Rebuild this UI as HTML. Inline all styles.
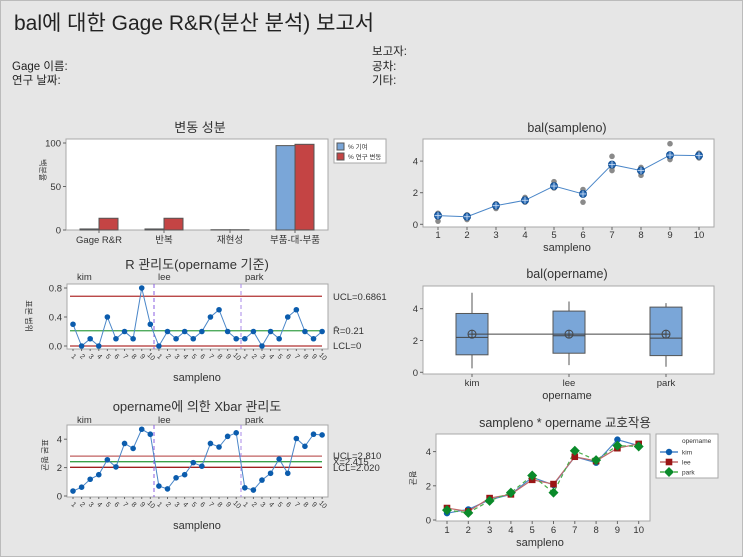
<!DOCTYPE html>
<html><head><meta charset="utf-8"><style>
html,body{margin:0;padding:0;background:#e6e6e6;}
svg{display:block;font-family:"Liberation Sans","Noto Sans CJK KR",sans-serif;}
</style></head><body>
<svg id="s" width="743" height="557" viewBox="0 0 743 557" xmlns="http://www.w3.org/2000/svg">
<rect x="0.5" y="0.5" width="742" height="556" fill="#e6e6e6" stroke="#bbb"/>
<text x="14" y="30" font-size="21" fill="#222">bal에 대한 Gage R&amp;R(분산 분석) 보고서</text>
<text x="12" y="70" font-size="11.5" fill="#222">Gage 이름:</text>
<text x="12" y="84" font-size="11.5" fill="#222">연구 날짜:</text>
<text x="372" y="55" font-size="11.5" fill="#222">보고자:</text>
<text x="372" y="70" font-size="11.5" fill="#222">공차:</text>
<text x="372" y="84" font-size="11.5" fill="#222">기타:</text>
</svg>
<script>
const S=document.getElementById('s');let h='';
const T=(x,y,t,sz,a,extra)=>{h+=`<text x="${x}" y="${y}" font-size="${sz||10}" text-anchor="${a||'start'}" fill="#333" ${extra||''}>${t}</text>`;};
const L=(x1,y1,x2,y2,c,w,d)=>{h+=`<line x1="${x1}" y1="${y1}" x2="${x2}" y2="${y2}" stroke="${c}" stroke-width="${w||1}" ${d?`stroke-dasharray="${d}"`:''}/>`;};
const R=(x,y,w,hh,f,s)=>{h+=`<rect x="${x}" y="${y}" width="${w}" height="${hh}" fill="${f}" stroke="${s||'none'}"/>`;};
const box=(x1,y1,x2,y2)=>R(x1,y1,x2-x1,y2-y1,'#fff','#a8a8a8');
const ytick=(x,y,t)=>{L(x-3,y,x,y,'#666');T(x-5,y+3.5,t,9.5,'end');};
// chart1
T(200,132,'변동 성분',13,'middle');box(66,139,328,230);
[[100,143],[50,186.5],[0,230]].forEach(a=>ytick(66,a[1],a[0]));
T(40,170,'백분율',8,'middle','transform="rotate(90 40 170)"');
const cats=[['Gage R&amp;R',99,1.2,13.5],['반복',164,1.2,13.5],['재현성',230,0.3,0.3],['부품-대-부품',295,97,98.5]];
cats.forEach(c=>{const sc=0.87;R(c[1]-19,230-c[2]*sc,19,c[2]*sc,'#7aa6d8','#555');R(c[1],230-c[3]*sc,19,c[3]*sc,'#c44444','#555');T(c[1],243,c[0],9.5,'middle');L(c[1],230,c[1],233,'#666');});
R(334,139,52,24,'#fff','#a8a8a8');R(337,143,7,7,'#7aa6d8','#555');R(337,153,7,7,'#c44444','#555');T(348,149,'% 기여',6.5);T(348,159,'% 연구 변동',6.5);
// control chart helper
const ctrl=(y0,yb,yt,ty,title,vals,sc,zero,ticks,lines)=>{
T(197,y0,title,13,'middle');box(67,yt,328,yb);
ticks.forEach(t=>ytick(67,zero-t[0]*sc,t[1]));
T(77,ty,'kim',9.5);T(158,ty,'lee',9.5);T(245,ty,'park',9.5);
lines.forEach(l=>L(70,zero-l[0]*sc,322,zero-l[0]*sc,l[1],1.3));
L(154,yt,154,yb,'#8a5ce0',1,'4,3');L(241,yt,241,yb,'#a98ae8',1,'4,3');
let p=vals.map((v,i)=>[73+i*8.59,zero-v*sc]);
h+=`<polyline fill="none" stroke="#4a86c8" stroke-width="1" points="${p.map(q=>q.join(',')).join(' ')}"/>`;
p.forEach((q,i)=>{h+=`<circle cx="${q[0]}" cy="${q[1]}" r="2.8" fill="#0b5cad"/>`;L(q[0],yb,q[0],yb+2,'#666');const n=i%10+1;T(q[0]+1,yb+9,n,7,'middle',`transform="rotate(45 ${q[0]} ${yb+7})"`);});
T(197,yb+32,'sampleno',11,'middle');
};
ctrl(269,349,284,280,'R 관리도(opername 기준)',[0.3,0,0.1,0,0.4,0.1,0.2,0.1,0.8,0.3,0,0.2,0.1,0.2,0.1,0.2,0.4,0.5,0.2,0.1,0.1,0.2,0,0.2,0.1,0.4,0.5,0.2,0.1,0.2],72.5,346,[[0.8,'0.8'],[0.4,'0.4'],[0,'0.0']],[[0.6861,'#b03030'],[0.21,'#3aa04a'],[0,'#b03030']]);
T(333,300,'UCL=0.6861',9.5);T(333,334,'R̄=0.21',9.5);T(333,349,'LCL=0',9.5);
T(26,316,'표본 범위',8,'middle','transform="rotate(90 26 316)"');
ctrl(411,497,425,423,'opername에 의한 Xbar 관리도',[0.35,0.62,1.18,1.5,2.55,2.05,3.7,3.35,4.7,4.35,0.7,0.5,1.28,1.5,2.35,2.1,3.7,3.45,4.2,4.45,0.58,0.42,1.12,1.6,2.6,1.6,4.05,3.5,4.35,4.3],14.2,496,[[4,'4'],[2,'2'],[0,'0']],[[2.81,'#c06060'],[2.415,'#3aa04a'],[2.02,'#a02020']]);
T(333,459,'UCL=2.810',9.5);T(333,465,'X̄=2.415',9.5);T(333,471,'LCL=2.020',9.5);
T(42,455,'표본 평균',8,'middle','transform="rotate(90 42 455)"');
// bal(sampleno)
T(567,132,'bal(sampleno)',12.5,'middle');box(423,139,714,227);
const z4=224.3,s4=15.8;[[4,'4'],[2,'2'],[0,'0']].forEach(t=>ytick(423,z4-t[0]*s4,t[1]));
const m=[0.55,0.48,1.18,1.52,2.42,1.92,3.78,3.4,4.38,4.35];
const gr=[[0.2,0.7,0.6],[0.3,0.6,0.5],[1.0,1.3,1.2],[1.4,1.7,1.6],[2.3,2.7,2.5],[1.4,2.2,2.0],[3.4,4.3,3.6],[3.1,3.6,3.5],[4.1,5.1,4.2],[4.2,4.5,4.3]];
m.forEach((v,i)=>{const x=438+i*29;gr[i].forEach(g=>h+=`<circle cx="${x}" cy="${z4-g*s4}" r="2.8" fill="#8a8a8a"/>`);T(x,238,i+1,9.5,'middle');L(x,227,x,230,'#666');});
h+=`<polyline fill="none" stroke="#4a86c8" points="${m.map((v,i)=>(438+i*29)+','+(z4-v*s4)).join(' ')}"/>`;
m.forEach((v,i)=>{const x=438+i*29,y=z4-v*s4;h+=`<circle cx="${x}" cy="${y}" r="3.5" fill="#2f6fb8" stroke="#0b4a90"/>`;L(x-3.5,y,x+3.5,y,'#cfe0f5',0.8);L(x,y-3.5,x,y+3.5,'#cfe0f5',0.8);});
T(567,251,'sampleno',11,'middle');
// bal(opername)
T(567,278,'bal(opername)',12.5,'middle');box(423,286,714,374);
const z5=372.3,s5=15.9;[[4,'4'],[2,'2'],[0,'0']].forEach(t=>ytick(423,z5-t[0]*s5,t[1]));
[[472,'kim',0.25,1.1,2.2,3.7,5.0],[569,'lee',0.45,1.2,2.3,3.85,4.45],[666,'park',0.35,1.05,2.15,4.1,4.35]].forEach(b=>{const [x,n,lo,q1,md,q3,hi]=b,Y=v=>z5-v*s5;
L(x,Y(hi),x,Y(q3),'#555');L(x,Y(q1),x,Y(lo),'#555');R(x-16,Y(q3),32,Y(q1)-Y(q3),'#7aa6d8','#555');L(x-16,Y(md),x+16,Y(md),'#444');T(x,386,n,9.5,'middle');L(x,374,x,377,'#666');});
L(472,z5-2.4*s5,666,z5-2.4*s5,'#444');
[472,569,666].forEach(x=>{const y=z5-2.4*s5;h+=`<circle cx="${x}" cy="${y}" r="4" fill="none" stroke="#444"/>`;L(x-4,y,x+4,y,'#444');L(x,y-4,x,y+4,'#444');});
T(567,399,'opername',11,'middle');
// interaction
T(565,427,'sampleno * opername 교호작용',12.5,'middle');box(436,434,650,521);
const z6=520,s6=17.1;[[4,'4'],[2,'2'],[0,'0']].forEach(t=>ytick(436,z6-t[0]*s6,t[1]));
for(let i=0;i<10;i++){const x=447+i*21.3;T(x,533,i+1,9.5,'middle');L(x,521,x,524,'#666');}
T(540,546,'sampleno',11,'middle');
T(410,478,'평균',8,'middle','transform="rotate(90 410 478)"');
const ser=[['#4a86c8','#0b5cad','c',[0.4,0.62,1.18,1.5,2.5,2.05,3.7,3.35,4.7,4.35],''],['#c06a6a','#9a1515','s',[0.7,0.5,1.28,1.5,2.35,2.1,3.7,3.45,4.2,4.45],''],['#4cae4c','#0a8a2a','d',[0.58,0.42,1.12,1.6,2.6,1.6,4.05,3.5,4.35,4.3],'4,3']];
const mk=(t,x,y,c)=>{if(t=='c')h+=`<circle cx="${x}" cy="${y}" r="3.2" fill="${c}"/>`;else if(t=='s')R(x-3.3,y-3.3,6.6,6.6,c);else h+=`<polygon points="${x},${y-5} ${x+5},${y} ${x},${y+5} ${x-5},${y}" fill="${c}"/>`;};
ser.forEach(s=>{h+=`<polyline fill="none" stroke="${s[0]}" stroke-width="1.2" ${s[4]?`stroke-dasharray="${s[4]}"`:''} points="${s[3].map((v,i)=>(447+i*21.3)+','+(z6-v*s6)).join(' ')}"/>`;});
ser.forEach(s=>s[3].forEach((v,i)=>mk(s[2],447+i*21.3,z6-v*s6,s[1])));
R(656,434,62,44,'#fff','#a8a8a8');T(682,443,'opername',6.5);
['kim','lee','park'].forEach((n,i)=>{const y=452+i*10;L(660,y,678,y,ser[i][0],1.5,ser[i][4]);mk(ser[i][2],669,y,ser[i][1]);T(682,y+2.5,n,6.5);});
S.insertAdjacentHTML('beforeend',h);
</script>
</body></html>
